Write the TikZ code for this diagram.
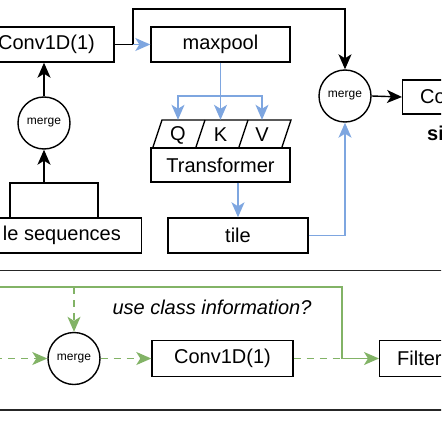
\documentclass[tikz,border=0pt]{standalone}
\usepackage{fontspec}
\setmainfont{Liberation Sans}
\usetikzlibrary{arrows.meta, positioning}
\definecolor{flowblue}{HTML}{7EA6E0}
\definecolor{flowgreen}{HTML}{82B366}

\begin{document}
\begin{tikzpicture}[x=1pt, y=-1pt,
  box/.style={rectangle, draw, line width=1.4pt, fill=white, minimum height=35pt, font=\fontsize{20}{24}\selectfont},
  label/.style={inner sep=0pt, font=\fontsize{20}{24}\selectfont},
  mergenode/.style={circle, draw, line width=1.4pt, fill=white, minimum size=52pt, inner sep=0pt, font=\fontsize{12}{14}\selectfont},
  arrow/.style={-{Stealth[length=15pt, width=13pt, inset=4pt]}, line width=1.4pt},
  bluearrow/.style={arrow, flowblue},
  greenarrow/.style={arrow, flowgreen},
  greendash/.style={flowgreen, line width=1.4pt, dash pattern=on 7pt off 6pt},
  rule/.style={line width=1.8pt, black!85}
]
  \useasboundingbox (0,0) rectangle (441,441);
  \clip (0,0) rectangle (441,441);

  % Upper branch
  \node[box, minimum width=135pt] (conva) at (46.5,44.5) {Conv1D(1)};
  \node[box, minimum width=139pt] (maxpool) at (220.5,44.5) {maxpool};
  \node[mergenode] (mergea) at (44,123) {merge};
  \node[box, minimum width=88pt] (join) at (54,200.5) {};
  \node[box, minimum width=160pt, anchor=east] (seq) at (142,235.5) {};
  \node[label, anchor=east] (seqtext) at (121,235.5) {le sequences};

  % Q K V heads
  \draw[line width=1.4pt, fill=white] (162,120) -- (291,120) -- (281,150) -- (152,150) -- cycle;
  \draw[line width=1.4pt] (205,120) -- (195,150);
  \draw[line width=1.4pt] (248,120) -- (238,150);
  \node[label, minimum height=30pt] (q) at (178,135) {Q};
  \node[label, minimum height=30pt] (k) at (220.5,135) {K};
  \node[label, minimum height=30pt] (v) at (262,135) {V};
  \node[box, minimum width=139pt, minimum height=34pt] (trans) at (220.5,165) {Transformer};
  \node[box, minimum width=140pt] (tile) at (238,235.5) {tile};

  % Merge and output
  \node[mergenode] (mergeb) at (345,96) {merge};
  \node[box, minimum width=100pt, minimum height=34pt, anchor=west] (convb) at (402,97) {};
  \node[label, anchor=west] (convbtext) at (420,97) {Co};
  \node[label, anchor=west, font=\fontsize{20}{24}\selectfont\bfseries] (sigtext) at (427,133) {si};

  \coordinate (split) at (133,44.5);
  \coordinate (topbend) at (133,9);
  \coordinate (fork) at (220.5,96);
  \draw[line width=1.4pt] (conva.east) -- (split);
  \draw[bluearrow] (split) -- (maxpool.west);
  \draw[arrow] (split) -- (topbend) -| (mergeb.north);
  \draw[bluearrow] (maxpool.south) -- (k.north);
  \draw[bluearrow] (fork) -| (q.north);
  \draw[bluearrow] (fork) -| (v.north);
  \draw[bluearrow] (trans.south -| tile.north) -- (tile.north);
  \draw[bluearrow] (tile.east) -| (mergeb.south);
  \draw[arrow] (mergeb.east) -- (convb.west);
  \draw[arrow] (mergea.north) -- (mergea.north |- conva.south);
  \draw[arrow] (join.north -| mergea.south) -- (mergea.south);

  % Separators
  \coordinate (ruleal) at (-5,270.5);
  \coordinate (rulear) at (446,270.5);
  \coordinate (rulebl) at (-5,410);
  \coordinate (rulebr) at (446,410);
  \draw[rule] (ruleal) -- (rulear);
  \draw[rule] (rulebl) -- (rulebr);

  % Lower branch
  \node[mergenode] (mergec) at (74,358.5) {merge};
  \node[box, minimum width=141pt, minimum height=36pt] (convc) at (222.5,358.5) {Conv1D(1)};
  \node[box, minimum width=100pt, minimum height=36pt, anchor=west] (filter) at (379,358.5) {};
  \node[label, anchor=west] (filtertext) at (397,358.5) {Filter};
  \node[label, font=\fontsize{20}{24}\selectfont\itshape] (classq) at (212,307) {use class information?};

  \coordinate (greenin) at (-5,358.5);
  \coordinate (classin) at (-5,287);
  \coordinate (classbend) at (342,287);
  \coordinate (greenjoin) at (342,358.5);
  \draw[greenarrow, greendash] (greenin) -- (mergec.west);
  \draw[greenarrow, greendash] (mergec.east) -- (convc.west);
  \draw[greendash] (convc.east) -- (greenjoin);
  \draw[greenarrow] (classin) -- (classbend) -- (greenjoin) -- (filter.west);
  \draw[greenarrow, greendash] (mergec.north |- classin) -- (mergec.north);
\end{tikzpicture}
\end{document}
